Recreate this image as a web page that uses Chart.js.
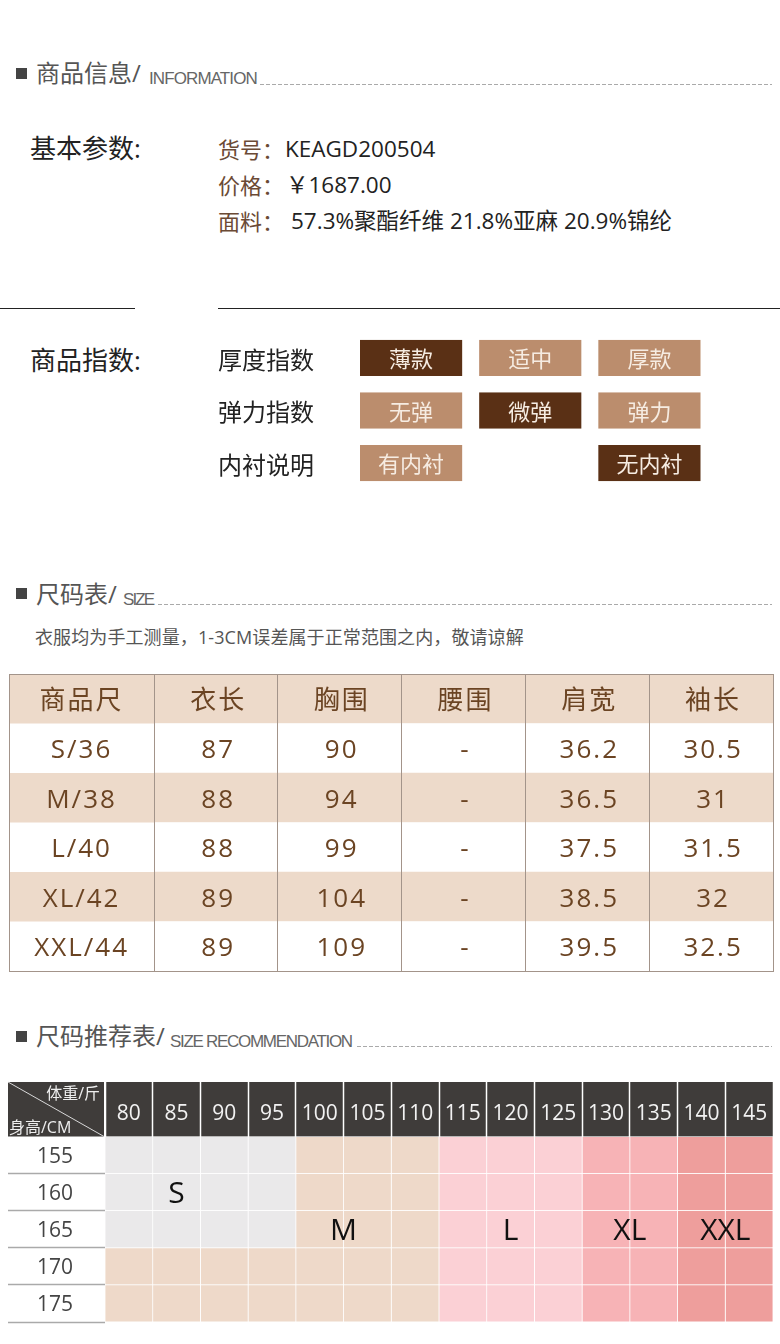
<!DOCTYPE html>
<html lang="zh">
<head>
<meta charset="utf-8">
<title>商品信息</title>
<script src="https://cdn.jsdelivr.net/npm/chart.js@4"></script>
<style>
html, body { margin: 0; padding: 0; background: #fff; }
body { position: relative; width: 780px; height: 1344px; overflow: hidden; font-family: 'Open Sans', 'Noto Sans CJK SC', sans-serif; color: #222; }
canvas { position: absolute; left: 0; }
.t { position: absolute; white-space: nowrap; line-height: 36px; height: 36px; }
.sq { position: absolute; left: 16px; width: 11px; height: 11px; background: #444; }
.sec { font-size: 24px; color: #555; left: 36px; }
.en { font-family: 'Liberation Sans', sans-serif; font-size: 17px; color: #666; letter-spacing: -1.3px; }
.dash { position: absolute; height: 1px; right: 8px; background: repeating-linear-gradient(90deg, #aaa 0 4px, transparent 4px 6px); }
.rule { position: absolute; height: 1px; top: 308px; background: #222; }
.big { font-size: 26px; left: 30px; color: #222; }
.lab { font-size: 22px; left: 218px; color: #6b4a35; }
.val { font-size: 22.5px; color: #222; }
</style>
</head>
<body>

<div class="sq" style="top:68px"></div>
<div class="t sec" style="top:55px">商品信息/</div>
<div class="t en" style="left:149px;top:61px;letter-spacing:-0.9px">INFORMATION</div>
<div class="dash" style="left:260px;top:84px"></div>

<div class="t big" style="top:130px">基本参数:</div>
<div class="t lab" style="top:131px">货号：</div>
<div class="t val" style="left:285px;top:131px">KEAGD200504</div>
<div class="t lab" style="top:167px">价格：</div>
<div class="t val" style="left:286px;top:167px">￥1687.00</div>
<div class="t lab" style="top:203px">面料：</div>
<div class="t val" style="left:291px;top:203px">57.3%聚酯纤维 21.8%亚麻 20.9%锦纶</div>

<div class="rule" style="left:0;width:135px"></div>
<div class="rule" style="left:218px;right:0"></div>

<div class="t big" style="top:342px">商品指数:</div>
<canvas id="chipChart" width="491" height="162" style="left:218px;top:330px"></canvas>

<div class="sq" style="top:588px"></div>
<div class="t sec" style="top:576px">尺码表/</div>
<div class="t en" style="left:123px;top:582px;letter-spacing:-1.9px">SIZE</div>
<div class="dash" style="left:158px;top:604px"></div>
<div class="t" style="left:35px;top:619px;font-size:18px;color:#555;letter-spacing:0.1px">衣服均为手工测量，1-3CM误差属于正常范围之内，敬请谅解</div>
<canvas id="sizeChart" width="780" height="305" style="top:670px"></canvas>

<div class="sq" style="top:1031px"></div>
<div class="t sec" style="top:1018px">尺码推荐表/</div>
<div class="t en" style="left:170px;top:1024px">SIZE RECOMMENDATION</div>
<div class="dash" style="left:357px;top:1046px"></div>
<canvas id="recChart" width="780" height="250" style="top:1078px"></canvas>

<script>
const FONT = "'Open Sans', 'Noto Sans CJK SC', sans-serif";

// 商品指数
const indexRows = ['厚度指数', '弹力指数', '内衬说明'];
const thicknessOptions = ['薄款', '适中', '厚款'];
const elasticOptions = ['无弹', '微弹', '弹力'];
const liningOptions = ['有内衬', '', '无内衬'];
const selectedOption = [0, 1, 2];
const chipSpan = [1, 1, 1];

// 尺码表
const sizeRows = ['商品尺', 'S/36', 'M/38', 'L/40', 'XL/42', 'XXL/44'];
const lengthCol = ['衣长', '87', '88', '88', '89', '89'];
const chestCol = ['胸围', '90', '94', '99', '104', '109'];
const waistCol = ['腰围', '-', '-', '-', '-', '-'];
const shoulderCol = ['肩宽', '36.2', '36.5', '37.5', '38.5', '39.5'];
const sleeveCol = ['袖长', '30.5', '31', '31.5', '32', '32.5'];
const cellSpan = [1, 1, 1, 1, 1, 1];

// 尺码推荐表
const weightLabels = ['80', '85', '90', '95', '100', '105', '110', '115', '120', '125', '130', '135', '140', '145'];
const heightLabels = ['155', '160', '165', '170', '175'];
const sizesAt155 = ['S', 'S', 'S', 'S', 'M', 'M', 'M', 'L', 'L', 'L', 'XL', 'XL', 'XXL', 'XXL'];
const sizesAt160 = ['S', 'S', 'S', 'S', 'M', 'M', 'M', 'L', 'L', 'L', 'XL', 'XL', 'XXL', 'XXL'];
const sizesAt165 = ['S', 'S', 'S', 'S', 'M', 'M', 'M', 'L', 'L', 'L', 'XL', 'XL', 'XXL', 'XXL'];
const sizesAt170 = ['M', 'M', 'M', 'M', 'M', 'M', 'M', 'L', 'L', 'L', 'XL', 'XL', 'XXL', 'XXL'];
const sizesAt175 = ['M', 'M', 'M', 'M', 'M', 'M', 'M', 'L', 'L', 'L', 'XL', 'XL', 'XXL', 'XXL'];
const heightSpan = [1, 1, 1, 1, 1];
const markNames = ['S', 'M', 'L', 'XL', 'XXL'];
const markCols = [1, 4.5, 8, 10.5, 12.5];
const markRows = [1, 2, 2, 2, 2];

const SIZE_COLORS = { S: '#eae9ea', M: '#eed9c9', L: '#fbd0d5', XL: '#f7b3b6', XXL: '#ee9e9c' };
const BROWN = '#6b4423';

function drawText(ctx, text, x, y, font, color) {
  ctx.save();
  ctx.font = font;
  ctx.fillStyle = color;
  ctx.textAlign = 'center';
  ctx.textBaseline = 'middle';
  ctx.fillText(text, x, y);
  ctx.restore();
}

// 厚度 / 弹力 / 内衬 色块
const chipOptions = [0, 1, 2].map(col => [thicknessOptions[col], elasticOptions[col], liningOptions[col]]);
new Chart(document.getElementById('chipChart'), {
  type: 'bar',
  data: {
    labels: indexRows,
    datasets: chipOptions.map((texts, col) => ({
      data: chipSpan,
      texts: texts,
      backgroundColor: texts.map((t, row) => t === '' ? '#fff' : (selectedOption[row] === col ? '#5a3015' : '#bb8d6d')),
      borderColor: '#fff',
      borderWidth: { left: 8.5, right: 8.5, top: 0, bottom: 0 },
      borderSkipped: false,
      categoryPercentage: 1,
      barPercentage: 0.69
    }))
  },
  options: {
    indexAxis: 'y', responsive: false, animation: false,
    layout: { padding: { top: 1.5, bottom: 2.5 } },
    plugins: { legend: { display: false }, tooltip: { enabled: false } },
    scales: {
      x: { display: false, stacked: true, min: 0, max: 3 },
      y: {
        stacked: true,
        grid: { display: false }, border: { display: false },
        ticks: { crossAlign: 'far', labelOffset: 4, color: '#222', font: { size: 24, family: FONT } },
        afterFit: s => { s.width = 133.5; s.paddingTop = 0; s.paddingBottom = 0; }
      }
    }
  },
  plugins: [{
    id: 'chipText',
    afterDatasetsDraw(chart) {
      chart.data.datasets.forEach((ds, i) => {
        chart.getDatasetMeta(i).data.forEach((bar, row) => {
          const p = bar.getCenterPoint();
          drawText(chart.ctx, ds.texts[row], p.x, p.y + 3, '22px ' + FONT, '#f6ece2');
        });
      });
    }
  }]
});

// 尺码表
const sizeCols = [lengthCol, chestCol, waistCol, shoulderCol, sleeveCol];
new Chart(document.getElementById('sizeChart'), {
  type: 'bar',
  data: {
    labels: sizeRows,
    datasets: sizeCols.map(col => ({
      data: cellSpan,
      texts: col,
      backgroundColor: col.map((_, row) => row % 2 === 0 ? '#eddaca' : '#fff'),
      categoryPercentage: 1,
      barPercentage: 1
    }))
  },
  options: {
    indexAxis: 'y', responsive: false, animation: false,
    layout: { padding: { left: 9, right: 7, top: 4, bottom: 4 } },
    plugins: { legend: { display: false }, tooltip: { enabled: false } },
    scales: {
      x: {
        stacked: true, min: 0, max: 5,
        grid: { color: '#a3948a', z: 1, drawTicks: false },
        border: { display: false },
        ticks: { display: false, stepSize: 1 },
        afterFit: s => { s.height = 0; }
      },
      y: {
        stacked: true,
        grid: { display: false, drawTicks: false }, border: { display: false },
        ticks: { crossAlign: 'center', padding: 31, labelOffset: 2.5, color: BROWN, font: { size: 26, family: FONT } },
        afterFit: s => { s.width = 145; s.paddingTop = 0; s.paddingBottom = 0; }
      }
    }
  },
  plugins: [{
    id: 'sizeBands',
    beforeDraw(chart) {
      const { ctx, scales: { y } } = chart;
      ctx.letterSpacing = '2px';
      const rowH = y.getPixelForValue(1) - y.getPixelForValue(0);
      sizeRows.forEach((_, row) => {
        if (row % 2 === 0) {
          ctx.fillStyle = '#eddaca';
          ctx.fillRect(y.left, y.getPixelForValue(row) - rowH / 2, y.width, rowH);
        }
      });
    },
    afterDatasetsDraw(chart) {
      chart.data.datasets.forEach((ds, i) => {
        chart.getDatasetMeta(i).data.forEach((bar, row) => {
          const p = bar.getCenterPoint();
          drawText(chart.ctx, ds.texts[row], p.x + 2, p.y + 2.5, '26px ' + FONT, BROWN);
        });
      });
    },
    afterDraw(chart) {
      const { ctx, chartArea: a, scales: { y } } = chart;
      ctx.strokeStyle = '#a3948a';
      ctx.lineWidth = 1;
      ctx.strokeRect(Math.round(y.left) + 0.5, Math.round(a.top) + 0.5, Math.round(a.right - y.left), Math.round(a.bottom - a.top));
    }
  }]
});

// 尺码推荐表
const heightSizes = [sizesAt155, sizesAt160, sizesAt165, sizesAt170, sizesAt175];
new Chart(document.getElementById('recChart'), {
  type: 'bar',
  data: {
    labels: heightLabels,
    datasets: weightLabels.map((w, col) => ({
      label: w,
      data: heightSpan,
      backgroundColor: heightSizes.map(r => SIZE_COLORS[r[col]]),
      borderColor: '#fff',
      borderWidth: 0.75,
      borderSkipped: false,
      categoryPercentage: 1,
      barPercentage: 1
    }))
  },
  options: {
    indexAxis: 'y', responsive: false, animation: false,
    layout: { padding: { left: 8, right: 7, top: 4, bottom: 6 } },
    plugins: { legend: { display: false }, tooltip: { enabled: false } },
    scales: {
      x: { display: false, stacked: true, min: 0, max: 14 },
      x2: {
        type: 'category', labels: weightLabels, position: 'top', offset: true,
        backgroundColor: '#3f3c3a',
        grid: { drawOnChartArea: false, offset: true, tickLength: 54.5, tickColor: '#fff', tickWidth: 1.5 },
        border: { display: false },
        ticks: { padding: -45, color: '#f2f2f2', maxRotation: 0, autoSkip: false, font: { size: 21, family: FONT } },
        afterFit: s => { s.height = 54.5; }
      },
      y: {
        stacked: true, offset: true,
        grid: {
          drawOnChartArea: false, offset: true, tickLength: 97, tickWidth: 1.5,
          tickColor: c => c.index === 0 ? 'transparent' : '#aaa'
        },
        border: { display: false },
        ticks: { padding: -65, labelOffset: 2, color: '#444', font: { size: 21, family: FONT } },
        afterFit: s => { s.width = 97; s.paddingTop = 0; s.paddingBottom = 0; }
      }
    }
  },
  plugins: [{
    id: 'recMarks',
    afterDraw(chart) {
      const { ctx, scales: { x2, y } } = chart;
      // 表头左上角
      ctx.save();
      ctx.fillStyle = '#3f3c3a';
      ctx.fillRect(y.left, x2.top, y.width - 1, x2.height);
      ctx.strokeStyle = '#d8d8d8';
      ctx.lineWidth = 1;
      ctx.beginPath();
      ctx.moveTo(y.left, x2.top);
      ctx.lineTo(y.right - 1, x2.bottom);
      ctx.stroke();
      ctx.font = '16px ' + FONT;
      ctx.fillStyle = '#eee';
      ctx.textBaseline = 'middle';
      ctx.textAlign = 'right';
      ctx.fillText('体重/斤', y.right - 5, x2.top + 12);
      ctx.textAlign = 'left';
      ctx.fillText('身高/CM', y.left + 1, x2.bottom - 8);
      ctx.restore();
      markNames.forEach((name, i) => {
        drawText(ctx, name, x2.getPixelForValue(markCols[i]), y.getPixelForValue(markRows[i]) + 2, '30px ' + FONT, '#111');
      });
    }
  }]
});
</script>
</body>
</html>
